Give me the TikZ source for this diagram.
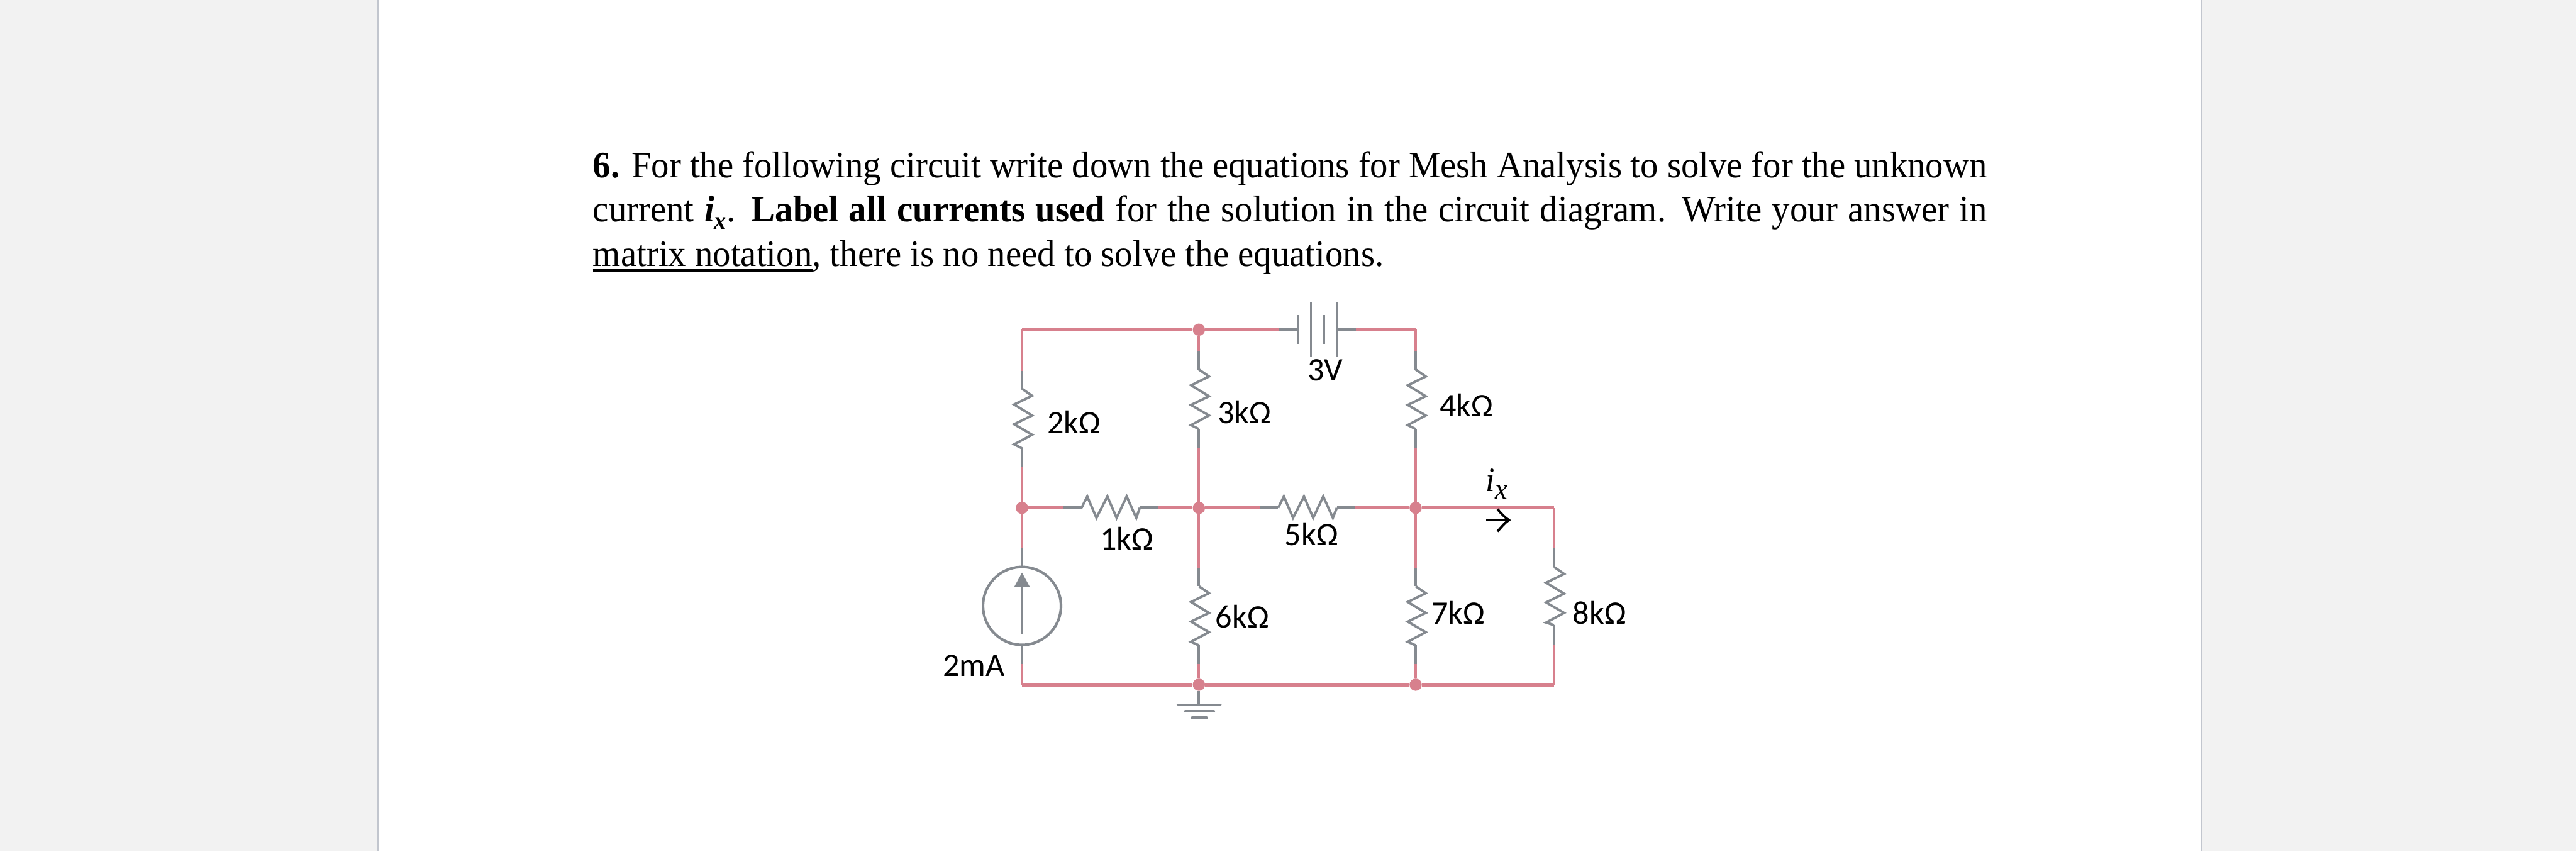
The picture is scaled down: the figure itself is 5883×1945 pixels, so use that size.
\documentclass[tikz,border=0pt]{standalone}
\usepackage{fontspec}
\setmainfont[FakeStretch=0.96]{Liberation Serif}
\newfontfamily\cktfont{Carlito}
\definecolor{pinkw}{HTML}{D7808D}
\definecolor{greyw}{HTML}{858A90}
\definecolor{framec}{HTML}{C2C6CE}
\definecolor{pagebg}{HTML}{F2F2F2}
\newcommand{\ixtext}[3]{{\itshape i}\raisebox{#3}{\fontsize{#1}{#2}\selectfont\itshape x}}
\newcommand{\vzig}[2]{\draw[partline] (#1) -- ++(23,16) -- ++(-41,20) -- ++(41,25) -- ++(-41,20) -- ++(41,24) -- ++(-41,22) -- (#2);}
\newcommand{\hzig}[2]{\draw[partline] (#1) -- ++(13,-26) -- ++(21,49) -- ++(25,-49) -- ++(21,49) -- ++(23,-49) -- ++(22,49) -- (#2);}
\tikzset{
  wireh/.style={draw=pinkw,line width=8pt,line cap=square},
  wirev/.style={draw=pinkw,line width=6pt},
  partline/.style={draw=greyw,line width=5.5pt,line join=miter},
  leadh/.style={draw=greyw,line width=8pt},
  leadv/.style={draw=greyw,line width=6pt},
  dotnode/.style={circle,fill=pinkw,draw=none,minimum size=28pt,inner sep=0pt},
  cktlabel/.style={font=\cktfont\fontsize{75}{75}\selectfont,text=black,inner sep=0pt,anchor=base,yshift=-3pt},
  textline/.style={font=\fontsize{85}{102}\selectfont,text=black,inner sep=0pt,anchor=base west},
}
\begin{document}
\begin{tikzpicture}[x=1pt,y=-1pt]
\useasboundingbox (0,0) rectangle (5883,1945);
\fill[pagebg] (0,0) rectangle (5883,1945);
\fill[white] (862,0) rectangle (5028,1945);
\draw[framec,line width=4pt] (862,0) -- (862,1945);
\draw[framec,line width=4pt] (5028,0) -- (5028,1945);
% text
\node[textline] (t1) at (1354,406) {\hbox to 3184pt{\textbf{6.} For the following circuit write down the equations for Mesh Analysis to solve for the unknown}};
\node[textline] (t2) at (1354,507) {\hbox to 3184pt{current \textbf{\ixtext{58}{58}{-0.2em}}. \textbf{Label all currents used} for the solution in the circuit diagram. Write your answer in}};
\node[textline] (t3) at (1354,608) {matrix notation, there is no need to solve the equations.};
\coordinate (ula) at (1354,618);
\coordinate (ulb) at (1855,618);
\draw[black,line width=6pt] (ula) -- (ulb);
% junctions
\coordinate (tl) at (2334,753);
\node[dotnode] (ntop) at (2738,753) {};
\coordinate (tr) at (3233,753);
\node[dotnode] (nl) at (2334,1160) {};
\node[dotnode] (nm) at (2738,1160) {};
\node[dotnode] (nr) at (3233,1160) {};
\coordinate (mr) at (3549,1160);
\coordinate (bl) at (2334,1564);
\node[dotnode] (nb) at (2738,1564) {};
\node[dotnode] (nb2) at (3233,1564) {};
\coordinate (br) at (3549,1564);
% a = grey start, b = zigzag start, c = zigzag end, d = grey end
\foreach \n/\x/\ya/\yb/\yc/\yd in {r2/2334/848/888/1024/1067, r3/2738/803/844/980/1022, r4/3233/803/844/980/1022, r6/2738/1297/1339/1474/1517, r7/3233/1297/1339/1474/1517, r8/3549/1252/1295/1428/1472}{
  \coordinate (\n a) at (\x,\ya);
  \coordinate (\n b) at (\x,\yb);
  \coordinate (\n c) at (\x,\yc);
  \coordinate (\n d) at (\x,\yd);
}
\foreach \n/\xa/\xb/\xc/\xd in {r1/2428/2470/2603/2646, r5/2877/2919/3053/3095}{
  \coordinate (\n a) at (\xa,1160);
  \coordinate (\n b) at (\xb,1160);
  \coordinate (\n c) at (\xc,1160);
  \coordinate (\n d) at (\xd,1160);
}
\coordinate (batL) at (2920,753);
\coordinate (batR) at (3096,753);
\coordinate (p1) at (2964,753);
\coordinate (p2) at (2994,753);
\coordinate (p3) at (3024,753);
\coordinate (p4) at (3054,753);
\coordinate (srcT) at (2334,1252);
\coordinate (srcB) at (2334,1517);
\node[circle,draw=greyw,line width=6pt,minimum size=178pt,inner sep=0pt] (src) at (2334,1384) {};
\coordinate (gnd) at (2738,1610);
% pink wires, horizontal
\draw[wireh] (tl) -- (ntop);
\draw[wireh] (ntop) -- (batL);
\draw[wireh] (batR) -- (tr);
\draw[wireh] (nl) -- (r1a);
\draw[wireh] (r1d) -- (nm);
\draw[wireh] (nm) -- (r5a);
\draw[wireh] (r5d) -- (nr);
\draw[wireh] (nr) -- (mr);
\draw[wireh] (bl) -- (nb);
\draw[wireh] (nb) -- (nb2);
\draw[wireh] (nb2) -- (br);
% pink wires, vertical
\draw[wirev] (tl) -- (r2a);
\draw[wirev] (ntop) -- (r3a);
\draw[wirev] (tr) -- (r4a);
\draw[wirev] (r2d) -- (nl);
\draw[wirev] (r3d) -- (nm);
\draw[wirev] (r4d) -- (nr);
\draw[wirev] (nl) -- (srcT);
\draw[wirev] (nm) -- (r6a);
\draw[wirev] (nr) -- (r7a);
\draw[wirev] (mr) -- (r8a);
\draw[wirev] (r6d) -- (nb);
\draw[wirev] (r7d) -- (nb2);
\draw[wirev] (r8d) -- (br);
\draw[wirev] (srcB) -- (bl);
% grey leads and resistors
\foreach \n in {r2,r3,r4,r6,r7,r8}{
  \draw[leadv] (\n a) -- (\n b);
  \draw[leadv] (\n c) -- (\n d);
  \vzig{\n b}{\n c}
}
\foreach \n in {r1,r5}{
  \draw[leadh] (\n a) -- (\n b);
  \draw[leadh] (\n c) -- (\n d);
  \hzig{\n b}{\n c}
}
% battery
\draw[leadh] (batL) -- (p1);
\draw[leadh] (p4) -- (batR);
\foreach \p/\h in {p1/33,p2/62,p3/33,p4/62}{\draw[greyw,line width=5.5pt] ([yshift=\h pt]\p) -- ([yshift=-\h pt]\p);}
% source
\draw[leadv] (srcT) -- (src.north);
\draw[leadv] (src.south) -- (srcB);
\coordinate (srcArrowTail) at (2334,1448);
\coordinate (srcArrowBase) at (2334,1341);
\coordinate (srcArrowTip) at (2334,1308);
\draw[greyw,line width=5pt] (srcArrowTail) -- (srcArrowBase);
\fill[greyw] (srcArrowTip) -- (2316,1341) -- (2352,1341) -- cycle;
% ground
\draw[leadv] (nb) -- (gnd);
\draw[greyw,line width=6pt,line cap=round] (2690,1610) -- (2787,1610);
\draw[greyw,line width=6pt,line cap=round] (2707,1625) -- (2772,1625);
\draw[greyw,line width=7pt,line cap=round] (2723,1639) -- (2755,1639);
% labels
\node[cktlabel] (l2) at (2453,988) {2kΩ};
\node[cktlabel] (l3) at (2842,965) {3kΩ};
\node[cktlabel] (l4) at (3349,949) {4kΩ};
\node[cktlabel] (l1) at (2573,1253) {1kΩ};
\node[cktlabel] (l5) at (2995,1243) {5kΩ};
\node[cktlabel] (l6) at (2837,1431) {6kΩ};
\node[cktlabel] (l7) at (3330,1423) {7kΩ};
\node[cktlabel] (l8) at (3653,1423) {8kΩ};
\node[cktlabel] (lV) at (3027,867) {3V};
\node[cktlabel] (lA) at (2224,1541) {2mA};
% current label and arrow
\node[inner sep=0pt,anchor=base west,text=black,font=\fontsize{78}{78}\selectfont] (ix) at (3393,1122) {\ixtext{66}{66}{-0.22em}};
\coordinate (ixa) at (3394,1188);
\coordinate (ixb) at (3446,1188);
\coordinate (ixu) at (3420,1163);
\coordinate (ixd) at (3420,1214);
\draw[black,line width=6pt] (ixa) -- (ixb);
\draw[black,line width=5.5pt] (ixu) .. controls (3430,1175) and (3438,1183) .. (ixb) .. controls (3438,1193) and (3430,1202) .. (ixd);
\end{tikzpicture}
\end{document}
